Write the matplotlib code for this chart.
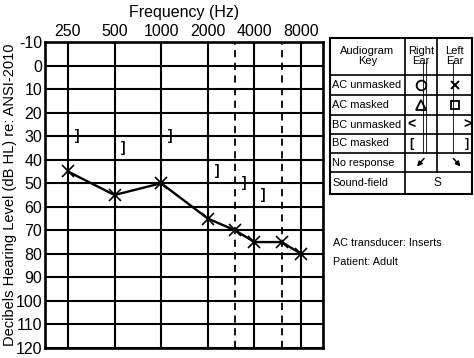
import numpy as np
import matplotlib
matplotlib.use("Agg")
import matplotlib.pyplot as plt
from matplotlib.patches import Rectangle
from matplotlib.transforms import offset_copy

plt.rcParams['font.family'] = ['Liberation Sans', 'DejaVu Sans']

# ---------- data ----------
tick_freqs = [250, 500, 1000, 2000, 4000, 8000]
tick_labels = ["250", "500", "1000", "2000", "4000", "8000"]
half_octaves = [3000, 6000]
db_ticks = list(range(-10, 121, 10))

# left ear, air conduction unmasked (X)
ac_freqs = [250, 500, 1000, 2000, 3000, 4000, 6000, 8000]
ac_left = [45, 55, 50, 65, 70, 75, 75, 80]

# left ear, bone conduction masked (])
bc_freqs = [250, 500, 1000, 2000, 3000, 4000]
bc_left = [30, 35, 30, 45, 50, 55]

key_rows = ["AC unmasked", "AC masked", "BC unmasked", "BC masked", "No response", "Sound-field"]


def octave(f):
    return np.log2(np.asarray(f, dtype=float) / 250.0)


W, H = 474, 358
fig = plt.figure(figsize=(W / 100, H / 100), dpi=100)

# ---------- audiogram ----------
ax = fig.add_axes([45 / W, 1 - 348 / H, 278 / W, 306 / H])
ax.set_xlim(-0.49, 5.47)
ax.set_ylim(120, -10)

for f in tick_freqs:
    ax.axvline(octave(f), color="black", lw=1.5, zorder=1)
for f in half_octaves:
    ax.axvline(octave(f), color="black", lw=1.3, ls=(0, (4, 3)), zorder=1)
for d in db_ticks:
    ax.axhline(d, color="black", lw=1.5, zorder=1)

ax.plot(octave(ac_freqs), ac_left, color="black", lw=1.7, marker="x",
        ms=9, mew=1.2, zorder=3)

shift = offset_copy(ax.transData, fig=fig, x=9, y=0, units="dots")
for f, v in zip(bc_freqs, bc_left):
    ax.text(octave(f), v, "]", transform=shift, ha="center", va="center",
            fontsize=10, fontweight="bold", zorder=3)

ax.xaxis.tick_top()
ax.set_xticks(octave(tick_freqs))
ax.set_xticklabels(tick_labels)
ax.set_yticks(db_ticks)
ax.set_yticklabels([str(d) for d in db_ticks])
ax.tick_params(length=0, labelsize=11.5, pad=2)
for s in ax.spines.values():
    s.set_linewidth(1.9)

fig.text(184 / W, 1 - 13 / H, "Frequency (Hz)", ha="center", va="center", fontsize=11.5)
fig.text(10 / W, 1 - 195 / H, "Decibels Hearing Level (dB HL) re: ANSI-2010",
         rotation=90, ha="center", va="center", fontsize=10.5)

# ---------- key table ----------
kx0, ky0, kx1, ky1 = 330, 38, 472, 194
kax = fig.add_axes([kx0 / W, 1 - ky1 / H, (kx1 - kx0) / W, (ky1 - ky0) / H])
kax.set_xlim(kx0, kx1)
kax.set_ylim(ky1, ky0)
kax.axis("off")

c1, c2 = 405, 437
row_edges = [75, 95, 115, 134, 153, 172, 194]
lw = 1.2
kax.add_patch(Rectangle((kx0, ky0), kx1 - kx0, ky1 - ky0, fill=False, lw=1.5, ec="black",
                        clip_on=False))
for y in row_edges[:-1]:
    kax.plot([kx0, kx1], [y, y], color="black", lw=lw)
kax.plot([c1, c1], [ky0, ky1], color="black", lw=lw)
kax.plot([c2, c2], [ky0, row_edges[-2]], color="black", lw=lw)
# stems running down the ear columns
for x in (423, 426, 453):
    kax.plot([x, x], [62, 153], color="black", lw=0.6)

kax.text((kx0 + c1) / 2, 56, "Audiogram\nKey", ha="center", va="center",
         fontsize=8, linespacing=1.1)
kax.text((c1 + c2) / 2, 56, "Right\nEar", ha="center", va="center",
         fontsize=8, linespacing=1.1)
kax.text((c2 + kx1) / 2, 56, "Left\nEar", ha="center", va="center",
         fontsize=8, linespacing=1.1)
for i, name in enumerate(key_rows):
    yc = (row_edges[i] + row_edges[i + 1]) / 2
    kax.text(kx0 + 2, yc, name, ha="left", va="center", fontsize=7.9)

rx, lx = (c1 + c2) / 2, (c2 + kx1) / 2
y_ac = (row_edges[0] + row_edges[1]) / 2
y_am = (row_edges[1] + row_edges[2]) / 2
y_bu = (row_edges[2] + row_edges[3]) / 2
y_bm = (row_edges[3] + row_edges[4]) / 2
y_nr = (row_edges[4] + row_edges[5]) / 2
y_sf = (row_edges[5] + row_edges[6]) / 2
kax.plot(rx, y_ac, marker="o", ms=7, mfc="none", mec="black", mew=1.3)
kax.plot(lx, y_ac, marker="x", ms=6, mec="black", mew=1.4)
kax.plot(rx, y_am, marker="^", ms=7, mfc="none", mec="black", mew=1.3)
kax.plot(lx, y_am, marker="s", ms=6, mfc="none", mec="black", mew=1.3)
kax.text(c1 + 6, y_bu, "<", ha="center", va="center", fontsize=10, fontweight="bold")
kax.text(kx1 - 5, y_bu, ">", ha="center", va="center", fontsize=10, fontweight="bold")
kax.text(c1 + 6, y_bm, "[", ha="center", va="center", fontsize=9, fontweight="bold")
kax.text(kx1 - 5, y_bm, "]", ha="center", va="center", fontsize=9, fontweight="bold")
arrow = dict(arrowstyle="-|>", color="black", lw=1.1, mutation_scale=7,
             shrinkA=0, shrinkB=0)
kax.annotate("", xy=(rx - 4, y_nr + 4), xytext=(rx + 3, y_nr - 4), arrowprops=arrow)
kax.annotate("", xy=(lx + 6, y_nr + 4), xytext=(lx - 1, y_nr - 4), arrowprops=arrow)
kax.text(c2, y_sf, "S", ha="center", va="center", fontsize=8.5)

fig.text(333 / W, 1 - 243 / H, "AC transducer: Inserts", ha="left", va="center", fontsize=7.8)
fig.text(333 / W, 1 - 262 / H, "Patient: Adult", ha="left", va="center", fontsize=7.8)

fig.savefig("out.png", dpi=100)
